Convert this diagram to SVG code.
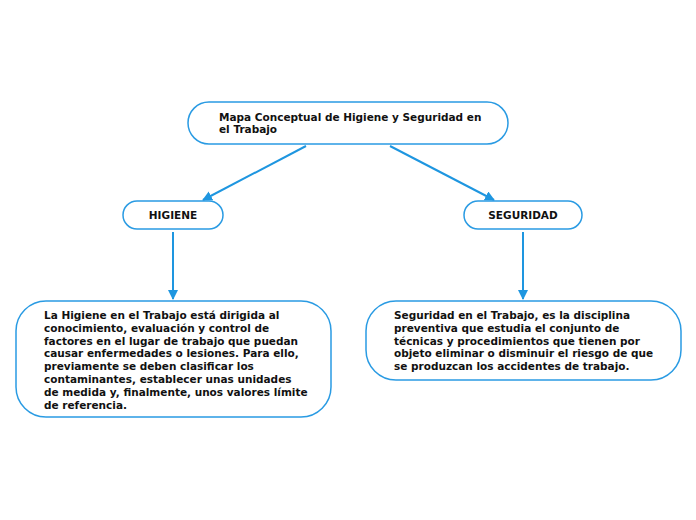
<svg xmlns="http://www.w3.org/2000/svg" width="696" height="520" viewBox="0 0 696 520">
<style>
.box{fill:#fff;stroke:#2a9be3;stroke-width:1.5}
.t{font-family:"DejaVu Sans",Verdana,sans-serif;font-weight:bold;font-size:10.5px;fill:#111}
.c{stroke:#1e96e0;stroke-width:2;fill:none;marker-end:url(#a)}
</style>
<defs><marker id="a" viewBox="0 0 10 10" refX="9" refY="5" markerWidth="5" markerHeight="5" orient="auto"><path d="M0,0L10,5L0,10z" fill="#1e96e0"/></marker></defs>
<rect width="696" height="520" fill="#fff"/>
<g id="connectors">
<line class="c" x1="306" y1="146" x2="203" y2="200"/>
<line class="c" x1="390" y1="146" x2="494" y2="200"/>
<line class="c" x1="173" y1="232" x2="173" y2="299"/>
<line class="c" x1="523" y1="232" x2="523" y2="299"/>
</g>
<g id="title"><rect class="box" x="188" y="102" width="320" height="42" rx="21"/>
<text class="t" x="219" y="121">Mapa Conceptual de Higiene y Seguridad en</text><text class="t" x="219" y="133">el Trabajo</text></g>
<g id="higiene"><rect class="box" x="123" y="201" width="100" height="28" rx="14"/><text class="t" x="173" y="219" text-anchor="middle">HIGIENE</text></g>
<g id="seguridad"><rect class="box" x="464" y="201" width="118" height="28" rx="14"/><text class="t" x="523" y="219" text-anchor="middle">SEGURIDAD</text></g>
<g id="hdesc"><rect class="box" x="16" y="301" width="315" height="116" rx="30"/>
<text class="t"><tspan x="44" y="319">La Higiene en el Trabajo está dirigida al</tspan><tspan x="44" y="331.8">conocimiento, evaluación y control de</tspan><tspan x="44" y="344.6">factores en el lugar de trabajo que puedan</tspan><tspan x="44" y="357.4">causar enfermedades o lesiones. Para ello,</tspan><tspan x="44" y="370.2">previamente se deben clasificar los</tspan><tspan x="44" y="383">contaminantes, establecer unas unidades</tspan><tspan x="44" y="395.8">de medida y, finalmente, unos valores límite</tspan><tspan x="44" y="408.6">de referencia.</tspan></text></g>
<g id="sdesc"><rect class="box" x="366" y="301" width="315" height="79" rx="30"/>
<text class="t"><tspan x="394" y="319">Seguridad en el Trabajo, es la disciplina</tspan><tspan x="394" y="331.8">preventiva que estudia el conjunto de</tspan><tspan x="394" y="344.6">técnicas y procedimientos que tienen por</tspan><tspan x="394" y="357.4">objeto eliminar o disminuir el riesgo de que</tspan><tspan x="394" y="370.2">se produzcan los accidentes de trabajo.</tspan></text></g>
</svg>
